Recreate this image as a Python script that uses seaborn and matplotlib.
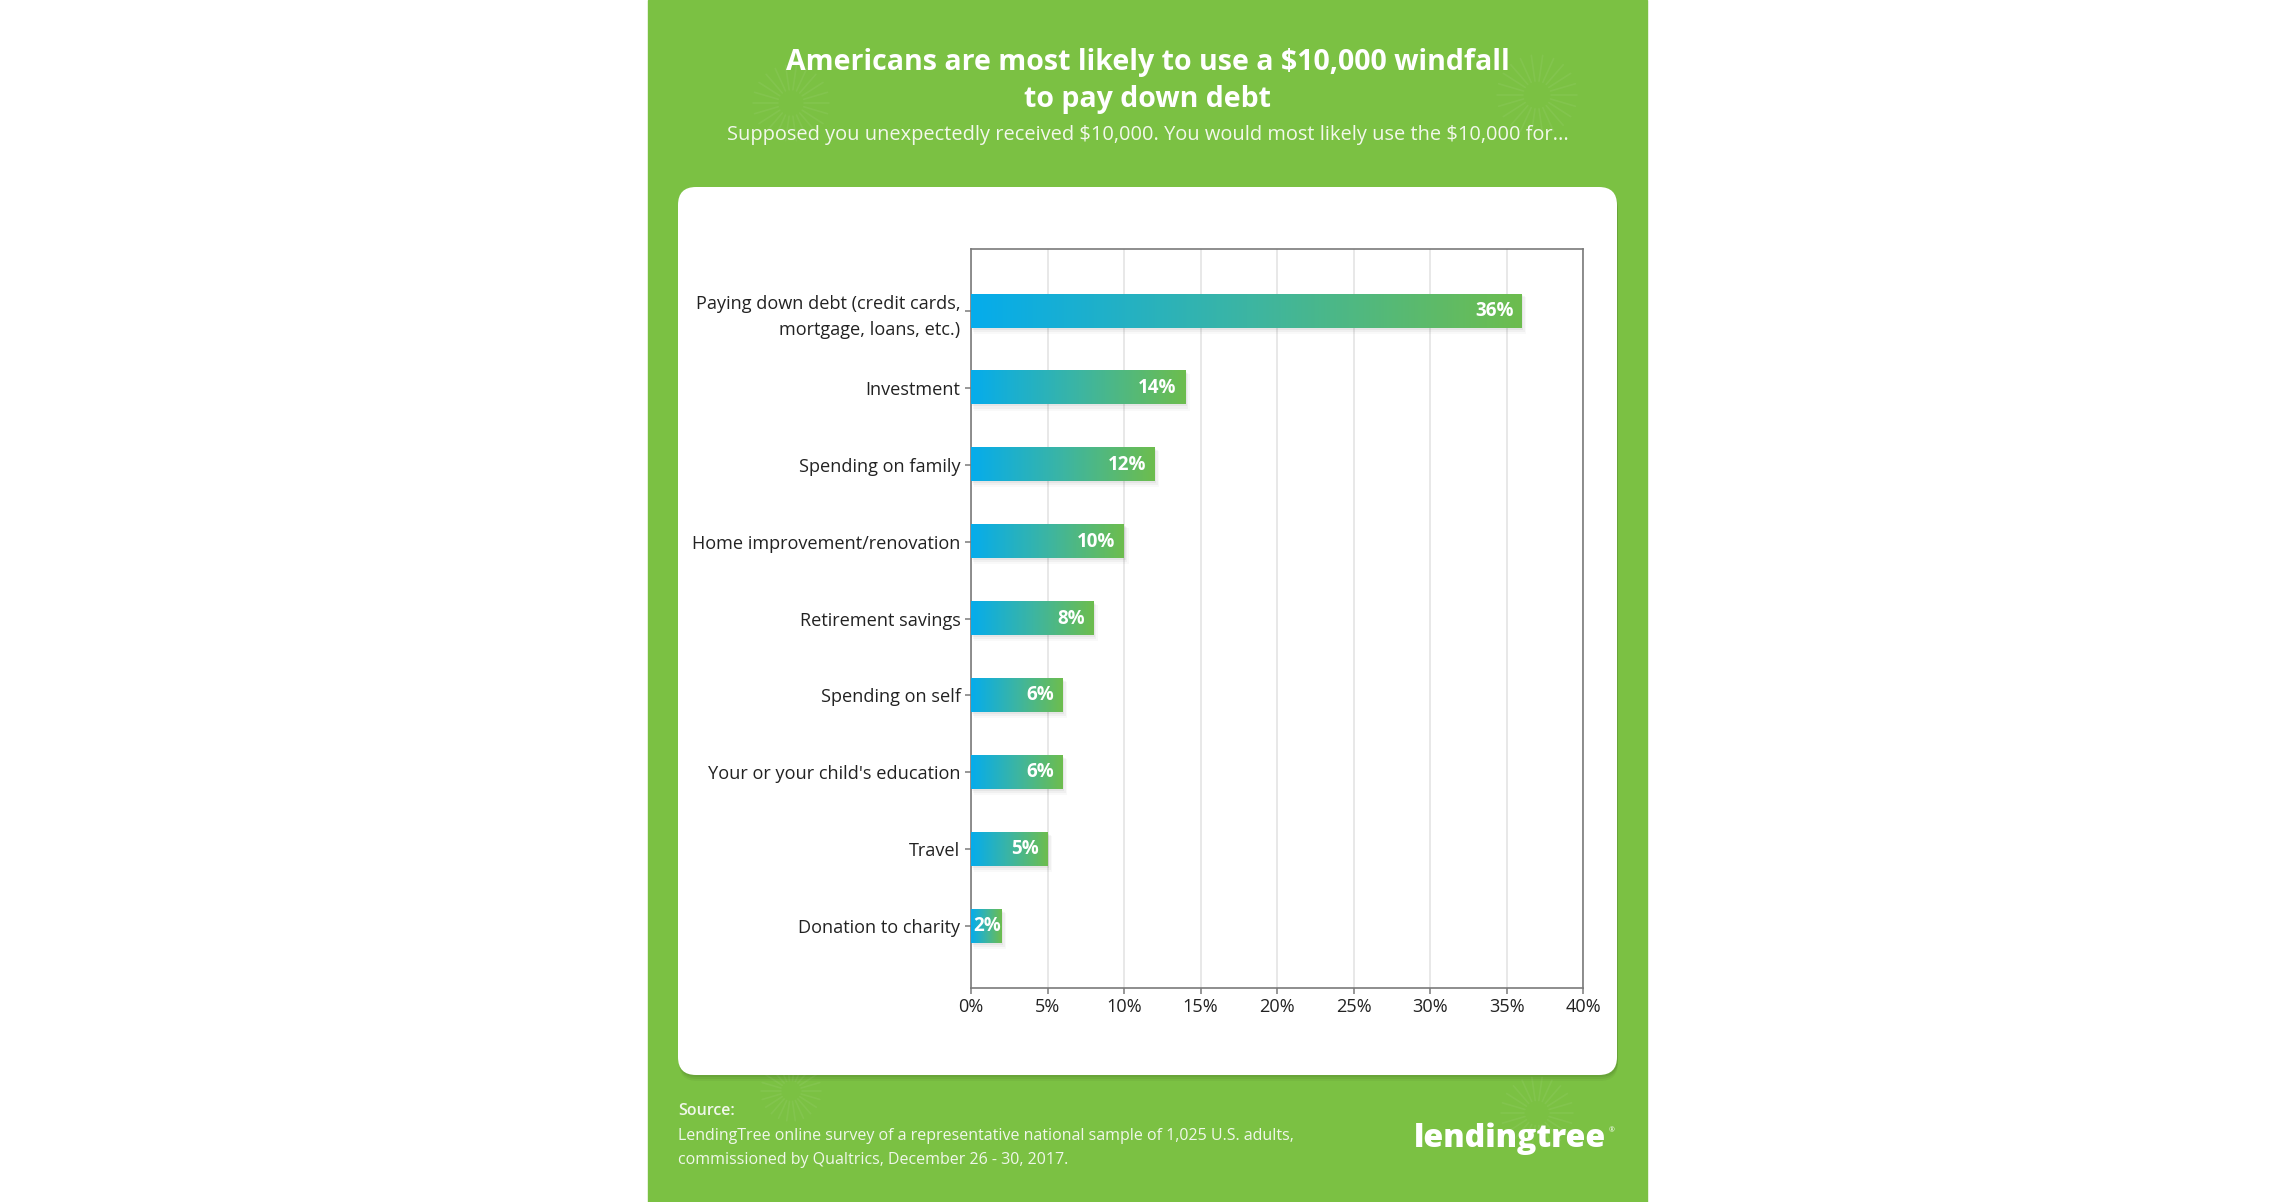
import numpy as np
import pandas as pd
import matplotlib
matplotlib.use("Agg")
import matplotlib.pyplot as plt
import seaborn as sns
from matplotlib.colors import LinearSegmentedColormap
from matplotlib.patches import FancyBboxPatch, Rectangle

# ---------------------------------------------
# Data
# ---------------------------------------------
categories = [
    "Paying down debt (credit cards,\nmortgage, loans, etc.)",
    "Investment",
    "Spending on family",
    "Home improvement/renovation",
    "Retirement savings",
    "Spending on self",
    "Your or your child's education",
    "Travel",
    "Donation to charity",
]
values = [36, 14, 12, 10, 8, 6, 6, 5, 2]
x_ticks = [0, 5, 10, 15, 20, 25, 30, 35, 40]
x_tick_labels = [f"{t}%" for t in x_ticks]

title = "Americans are most likely to use a $10,000 windfall\nto pay down debt"
subtitle = "Supposed you unexpectedly received $10,000. You would most likely use the $10,000 for..."
source_head = "Source:"
source_text = ("LendingTree online survey of a representative national sample of 1,025 U.S. adults,\n"
               "commissioned by Qualtrics, December 26 - 30, 2017.")

df = pd.DataFrame({"use": categories, "pct": values})

# ---------------------------------------------
# Style
# ---------------------------------------------
sns.set_theme(style="white")
plt.rcParams['font.family'] = ['Open Sans', 'DejaVu Sans']

GREEN = "#7bc143"
W, H = 2296, 1202

fig = plt.figure(figsize=(W / 100, H / 100), dpi=100)
fig.patch.set_facecolor("white")

# background canvas in pixel coordinates
bg = fig.add_axes([0, 0, 1, 1], zorder=0)
bg.set_xlim(0, W)
bg.set_ylim(H, 0)
bg.axis("off")

bg.add_patch(Rectangle((648, 0), 999, H, color=GREEN, zorder=0))

# faint fireworks decoration
for cx, cy, r in [(791, 103, 38), (1537, 95, 40), (791, 1091, 30), (1537, 1113, 36)]:
    for a in np.linspace(0, 2 * np.pi, 22, endpoint=False):
        bg.plot([cx + 0.35 * r * np.cos(a), cx + r * np.cos(a)],
                [cy + 0.35 * r * np.sin(a), cy + r * np.sin(a)],
                color="white", alpha=0.06, lw=1.2, zorder=1)

# white card with soft shadow
for k, al in [(6, 0.04), (4, 0.05), (2, 0.06)]:
    bg.add_patch(FancyBboxPatch((678 + 1, 187 + k), 939, 888,
                                boxstyle="round,pad=0,rounding_size=18",
                                fc="black", ec="none", alpha=al, zorder=2))
bg.add_patch(FancyBboxPatch((678, 187), 939, 888,
                            boxstyle="round,pad=0,rounding_size=18",
                            fc="white", ec="none", zorder=3))

# titles
bg.text(1148, 81, title, ha="center", va="center", color="white",
        fontsize=20.5, fontweight="bold", linespacing=1.37, parse_math=False, zorder=4)
bg.text(1148, 135, subtitle, ha="center", va="center", color="#f2f8ec",
        fontsize=14.4, parse_math=False, zorder=4)

# footer
bg.text(678, 1111, source_head, ha="left", va="center", color="#f0f7ea",
        fontsize=11.5, fontweight="semibold", zorder=4)
bg.text(678, 1148, source_text, ha="left", va="center", color="#f0f7ea",
        fontsize=11.5, linespacing=1.75, zorder=4)
bg.text(1606, 1139, "lendingtree", ha="right", va="center", color="white",
        fontsize=23, fontweight="heavy", zorder=4)
bg.text(1612, 1131, "®", ha="center", va="center", color="white", fontsize=5, zorder=4)

# ---------------------------------------------
# Bar chart
# ---------------------------------------------
ax = fig.add_axes([971 / W, 1 - 988 / H, (1583 - 971) / W, (988 - 249) / H], zorder=5)
ax.patch.set_alpha(0)

sns.barplot(data=df, x="pct", y="use", orient="h", ax=ax, width=0.44, color="#2fb2c8")

grad_cmap = LinearSegmentedColormap.from_list("bar", ["#05acec", "#3cb5a3", "#6dbd4e"])
gradient = np.linspace(0, 1, 256).reshape(1, -1)

for p in ax.patches:
    x0, y0, w, h = p.get_x(), p.get_y(), p.get_width(), p.get_height()
    p.set_visible(False)
    for k, al in [(0.6, 0.025), (0.4, 0.035), (0.2, 0.045)]:
        ax.add_patch(Rectangle((x0 + k * 0.3, y0 + k * 0.08), w + k * 0.2, h + k * 0.05,
                               fc="black", ec="none", alpha=al, zorder=2))
    ax.imshow(gradient, extent=[x0, x0 + w, y0 + h, y0], cmap=grad_cmap,
              aspect="auto", interpolation="bilinear", zorder=3)

for i, v in enumerate(values):
    off = 0.55 if v > 3 else 0.05
    ax.text(v - off, i, f"{v}%", ha="right", va="center", color="white",
            fontsize=13.5, fontweight="bold", zorder=4)

ax.set_xlim(0, 40)
ax.set_ylim(8.8, -0.8)
ax.set_xticks(x_ticks)
ax.set_xticklabels(x_tick_labels)
ax.xaxis.grid(True, color="#e2e2e2", lw=1.1)
ax.yaxis.grid(False)
ax.set_axisbelow(True)
ax.set_xlabel("")
ax.set_ylabel("")

for s in ax.spines.values():
    s.set_visible(True)
    s.set_color("#7a7a7a")
    s.set_linewidth(1.2)

ax.tick_params(axis="both", which="both", bottom=True, left=True, direction="out",
               length=4.5, width=1.1, color="#7a7a7a", labelsize=13.1,
               labelcolor="#222222", pad=3)
for lab in ax.get_yticklabels():
    lab.set_linespacing(1.6)

plt.savefig("out.png", dpi=100)
